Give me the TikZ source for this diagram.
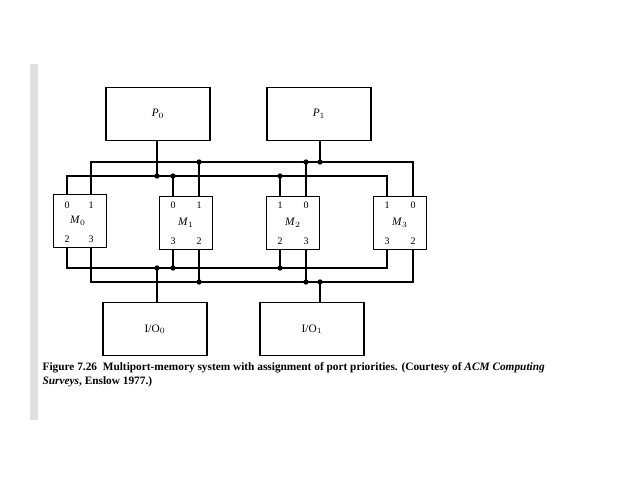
\documentclass[tikz,border=0pt]{standalone}
\usepackage{fontspec}
\setmainfont{Liberation Serif}
\begin{document}
\begin{tikzpicture}[x=0.75pt,y=-0.75pt,line width=0.9pt,
  box/.style={draw,minimum width=78pt,minimum height=40pt,inner sep=0pt,font=\fontsize{8.5}{9}\selectfont},
  mem/.style={draw,minimum width=40pt,minimum height=40pt,inner sep=0pt},
  dot/.style={circle,fill,inner sep=0pt,minimum size=4pt},
  ml/.style={font=\fontsize{8.5}{9}\selectfont,inner sep=0pt},
  pl/.style={font=\fontsize{7.5}{8}\selectfont,inner sep=0pt}]
\useasboundingbox (0,0) rectangle (638,478);
\fill[black!12] (30,64) rectangle (38,420);
\node[box] (P0) at (158,114) {\textit{P}$_0$};
\node[box] (P1) at (319,114) {\textit{P}$_1$};
\node[box] (IO0) at (155,329) {I/O$_0$};
\node[box] (IO1) at (312,329) {I/O$_1$};
\node[mem] (M0) at (80,221) {};
\node[mem] (M1) at (186,223) {};
\node[mem] (M2) at (293,223) {};
\node[mem] (M3) at (400,223) {};
\node[ml] at (78,221) {\textit{M}$_0$};
\node[ml] at (186,223) {\textit{M}$_1$};
\node[ml] at (293,223) {\textit{M}$_2$};
\node[ml] at (400,223) {\textit{M}$_3$};
% port labels
\foreach \x/\t/\y in {67/0/205,91/1/205,67/2/239,91/3/239,
  173/0/205,199/1/205,173/3/241,199/2/241,
  280/1/205,306/0/205,280/2/241,306/3/241,
  387/1/205,413/0/205,387/3/241,413/2/241}
  \node[pl] at (\x,\y) {\t};
% buses
\coordinate (b1l) at (91,162); \coordinate (b1r) at (413,162);
\coordinate (b2l) at (67,176); \coordinate (b2r) at (387,176);
\coordinate (b3l) at (67,268); \coordinate (b3r) at (387,268);
\coordinate (b4l) at (91,282); \coordinate (b4r) at (413,282);
\draw (M0.north-|b1l) -- (b1l) -- (b1r) -- (M3.north-|b1r);
\draw (M0.north-|b2l) -- (b2l) -- (b2r) -- (M3.north-|b2r);
\draw (M0.south-|b3l) -- (b3l) -- (b3r) -- (M3.south-|b3r);
\draw (M0.south-|b4l) -- (b4l) -- (b4r) -- (M3.south-|b4r);
% processor and IO drops
\coordinate (d0) at (157,176); \coordinate (d1) at (320,162);
\coordinate (e0) at (157,268); \coordinate (e1) at (320,282);
\draw (P0.south-|d0) -- (d0); \draw (P1.south-|d1) -- (d1);
\draw (IO0.north-|e0) -- (e0); \draw (IO1.north-|e1) -- (e1);
\node[dot] at (d0) {}; \node[dot] at (d1) {};
\node[dot] at (e0) {}; \node[dot] at (e1) {};
% memory port drops
\foreach \x/\tb/\bb in {173/176/268,199/162/282,280/176/268,306/162/282}{
  \draw (\x,\tb) -- (\x,196); \draw (\x,250) -- (\x,\bb);
  \node[dot] at (\x,\tb) {}; \node[dot] at (\x,\bb) {};}
\node[anchor=north west,align=left,inner sep=0pt,
  font=\fontsize{8.5}{10.5}\selectfont\bfseries] (cap) at (42,362)
 {Figure 7.26\ \ Multiport-memory system with assignment of port priorities. (Courtesy of \textit{ACM Computing}\\\textit{Surveys}, Enslow 1977.)};
\end{tikzpicture}
\end{document}
